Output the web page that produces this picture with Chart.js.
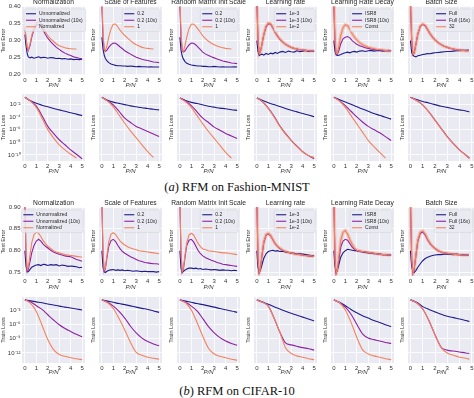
<!DOCTYPE html>
<html>
<head>
<meta charset="utf-8">
<script src="https://cdn.jsdelivr.net/npm/chart.js@4.4.1/dist/chart.umd.min.js"></script>
<style>
  html, body { margin: 0; padding: 0; background: #fff; width: 474px; height: 398px; overflow: hidden; position: relative; }
  canvas { position: absolute; }
  .cap { position: absolute; left: 0; width: 474px; text-align: center; font-family: "Liberation Serif", "Times New Roman", serif; font-size: 12.5px; color: #111; }
</style>
</head>
<body>
<div class="cap" style="top:180px">(<i>a</i>) RFM on Fashion-MNIST</div>
<div class="cap" style="top:384px">(<i>b</i>) RFM on CIFAR-10</div>
<script>
// panel titles and legend labels, one per column
const titles = ["Normalization", "Scale of Features", "Random Matrix Init Scale", "Learning rate", "Learning Rate Decay", "Batch Size"];
const legendNorm = ["Unnormalized", "Unnormalized (10x)", "Normalized"];
const legendScale = ["0.2", "0.2 (10x)", "1"];
const legendInit = ["0.2", "0.2 (10x)", "1"];
const legendLr = ["1e-3", "1e-3 (10x)", "1e-2"];
const legendDecay = ["ISR8", "ISR8 (10x)", "Const"];
const legendBatch = ["Full", "Full (16x)", "32"];

// x values (P/N)
const teX = [0, 0.1, 0.2, 0.3, 0.45, 0.6, 0.8, 1, 1.2, 1.4, 1.6, 1.8, 2, 2.25, 2.5, 2.75, 3, 3.25, 3.5, 3.75, 4, 4.25, 4.5, 4.75, 5];
const tlX = [0, 0.5, 1, 1.5, 2, 2.5, 3, 3.5, 4, 4.5, 5];
const tlXBatch = [0, 0.5, 1, 1.5, 2, 2.5, 3, 3.5, 4, 4.5, 4.8];
const xTicks = [0, 1, 2, 3, 4, 5];

// y tick values
const fmTestTicks = [0.2, 0.25, 0.3, 0.35, 0.4];
const cfTestTicks = [0.75, 0.8, 0.85, 0.9];
const fmLossTicks = [1e-2, 1e-4, 1e-6, 1e-8, 1e-10];
const cfLossTicks = [1e-3, 1e-6, 1e-9, 1e-12];

// Fashion-MNIST test error: [blue, purple, orange]
const fmTestNorm = [
  [0.318, 0.285, 0.262, 0.252, 0.249, 0.251, 0.248, 0.250, 0.252, 0.249, 0.251, 0.250, 0.248, 0.250, 0.249, 0.247, 0.248, 0.246, 0.247, 0.245, 0.246, 0.244, 0.245, 0.244, 0.245],
  [0.335, 0.305, 0.278, 0.270, 0.285, 0.310, 0.333, 0.345, 0.348, 0.342, 0.330, 0.318, 0.307, 0.297, 0.288, 0.280, 0.274, 0.268, 0.263, 0.259, 0.256, 0.252, 0.250, 0.248, 0.246],
  [0.340, 0.310, 0.280, 0.272, 0.290, 0.315, 0.340, 0.352, 0.356, 0.350, 0.337, 0.325, 0.315, 0.305, 0.298, 0.290, 0.285, 0.282, 0.279, 0.277, 0.276, 0.275, 0.275, null, null]
];
const fmTestScale = [
  [0.310, 0.275, 0.258, 0.248, 0.240, 0.235, 0.231, 0.229, 0.227, 0.226, 0.226, 0.225, 0.225, 0.224, 0.225, 0.224, 0.223, 0.224, 0.223, 0.223, 0.222, 0.223, 0.222, 0.222, 0.222],
  [0.400, 0.310, 0.272, 0.268, 0.272, 0.280, 0.288, 0.293, 0.292, 0.287, 0.281, 0.276, 0.270, 0.265, 0.260, 0.255, 0.251, 0.248, 0.245, 0.243, 0.241, 0.239, 0.237, 0.236, 0.235],
  [0.420, 0.330, 0.275, 0.270, 0.285, 0.310, 0.335, 0.348, 0.349, 0.340, 0.330, 0.322, 0.315, 0.307, 0.300, 0.293, 0.288, 0.284, 0.280, 0.278, 0.277, 0.276, 0.275, null, null]
];
const fmTestInit = [
  [0.310, 0.272, 0.255, 0.246, 0.238, 0.233, 0.230, 0.228, 0.227, 0.226, 0.225, 0.225, 0.224, 0.224, 0.223, 0.223, 0.224, 0.223, 0.222, 0.223, 0.222, 0.222, 0.222, 0.223, 0.222],
  [0.400, 0.310, 0.270, 0.266, 0.270, 0.278, 0.287, 0.293, 0.292, 0.287, 0.280, 0.273, 0.266, 0.260, 0.256, 0.252, 0.249, 0.246, 0.243, 0.240, 0.238, 0.236, 0.234, 0.233, 0.232],
  [0.420, 0.330, 0.272, 0.268, 0.285, 0.310, 0.335, 0.348, 0.349, 0.342, 0.333, 0.324, 0.314, 0.305, 0.298, 0.292, 0.288, 0.284, 0.281, 0.279, 0.277, 0.276, 0.275, null, null]
];
const fmTestLr = [
  [0.300, 0.268, 0.256, 0.258, 0.260, 0.257, 0.262, 0.259, 0.263, 0.261, 0.265, 0.262, 0.266, 0.268, 0.265, 0.269, 0.267, 0.266, 0.270, 0.267, 0.269, 0.271, 0.268, 0.270, 0.269],
  [0.410, 0.300, 0.262, 0.266, 0.290, 0.316, 0.340, 0.350, 0.349, 0.337, 0.324, 0.313, 0.304, 0.296, 0.289, 0.284, 0.280, 0.277, 0.275, 0.273, 0.272, 0.271, 0.270, 0.270, 0.269],
  [0.420, 0.300, 0.260, 0.265, 0.290, 0.318, 0.342, 0.352, 0.350, 0.338, 0.325, 0.314, 0.305, 0.296, 0.289, 0.284, 0.280, 0.277, 0.275, 0.273, 0.272, 0.271, 0.270, 0.270, 0.270]
];
const fmTestDecay = [
  [0.300, 0.268, 0.258, 0.256, 0.257, 0.259, 0.262, 0.264, 0.266, 0.264, 0.267, 0.268, 0.266, 0.269, 0.270, 0.268, 0.270, 0.271, 0.269, 0.270, 0.271, 0.269, 0.270, 0.271, 0.270],
  [0.400, 0.290, 0.262, 0.260, 0.272, 0.290, 0.305, 0.310, 0.312, 0.308, 0.300, 0.294, 0.289, 0.285, 0.282, 0.279, 0.277, 0.275, 0.274, 0.273, 0.272, 0.271, 0.270, 0.270, 0.270],
  [0.420, 0.300, 0.262, 0.262, 0.285, 0.315, 0.338, 0.347, 0.344, 0.333, 0.320, 0.310, 0.302, 0.294, 0.288, 0.284, 0.280, 0.278, 0.276, 0.274, 0.273, 0.272, 0.271, 0.270, 0.270]
];
const fmTestBatch = [
  [0.300, 0.265, 0.257, 0.254, 0.252, 0.255, 0.257, 0.259, 0.260, 0.262, 0.261, 0.263, 0.264, 0.265, 0.266, 0.267, 0.268, 0.268, 0.269, 0.270, 0.270, 0.271, 0.271, 0.272, null],
  [0.410, 0.300, 0.261, 0.263, 0.290, 0.319, 0.342, 0.348, 0.344, 0.332, 0.320, 0.310, 0.302, 0.294, 0.288, 0.283, 0.280, 0.277, 0.275, 0.273, 0.272, 0.271, 0.270, 0.270, null],
  [0.420, 0.300, 0.260, 0.262, 0.290, 0.320, 0.343, 0.349, 0.345, 0.333, 0.320, 0.310, 0.302, 0.294, 0.288, 0.283, 0.280, 0.277, 0.275, 0.273, 0.272, 0.271, 0.270, 0.270, null]
];

// Fashion-MNIST train loss
const fmLossNorm = [
  [1.3e-1, 3.5e-2, 1.4e-2, 7.1e-3, 4e-3, 2.2e-3, 1.3e-3, 7.9e-4, 4.5e-4, 2.8e-4, 1.6e-4],
  [1.3e-1, 3.2e-2, 5e-3, 1.6e-4, 3.2e-6, 2.5e-7, 2.5e-8, 4e-9, 6.3e-10, 1.3e-10, 2.5e-11],
  [1.3e-1, 3.2e-2, 3.2e-3, 6.3e-5, 1e-6, 5e-8, 4e-9, 6.3e-10, 1.3e-10, 3.2e-11, null]
];
const fmLossScale = [
  [1.3e-1, 4.5e-2, 2.2e-2, 1.4e-2, 8.9e-3, 5.6e-3, 4e-3, 2.8e-3, 2.2e-3, 1.6e-3, 1.3e-3],
  [1.3e-1, 3.5e-2, 7.9e-3, 7.9e-4, 6.3e-5, 1.3e-5, 3.2e-6, 1.3e-6, 5e-7, 2e-7, 7.9e-8],
  [1.3e-1, 3.2e-2, 4e-3, 2e-4, 1e-5, 6.3e-7, 5e-8, 4e-9, 3.2e-10, 4e-11, null]
];
const fmLossInit = [
  [1e-1, 4e-2, 2e-2, 1.3e-2, 7.9e-3, 5e-3, 3.5e-3, 2.5e-3, 2e-3, 1.4e-3, 1.1e-3],
  [1e-1, 3.2e-2, 6.3e-3, 6.3e-4, 6.3e-5, 1.3e-5, 2.5e-6, 7.9e-7, 2.5e-7, 1e-7, 4e-8],
  [1e-1, 2.5e-2, 3.2e-3, 1.6e-4, 7.9e-6, 5e-7, 4e-8, 3.2e-9, 2.5e-10, 3.2e-11, null]
];
const fmLossLr = [
  [1e-1, 4e-2, 1.8e-2, 8.9e-3, 4.5e-3, 2.2e-3, 1.1e-3, 6.3e-4, 3.5e-4, 2e-4, 1.1e-4],
  [1e-1, 2.5e-2, 2.5e-3, 1.3e-4, 4e-6, 2.5e-7, 2e-8, 2.5e-9, 3.2e-10, 7.9e-11, 2.5e-11],
  [1e-1, 2.5e-2, 2e-3, 1e-4, 3.2e-6, 2e-7, 2e-8, 2e-9, 3.2e-10, 7.9e-11, 4e-11]
];
const fmLossDecay = [
  [1.3e-1, 5e-2, 2.2e-2, 1e-2, 4e-3, 1.8e-3, 7.9e-4, 3.5e-4, 1.8e-4, 8.9e-5, 4.5e-5],
  [1.3e-1, 3.5e-2, 6.3e-3, 7.9e-4, 1e-4, 1.6e-5, 3.2e-6, 1e-6, 3.2e-7, 7.9e-8, 1.8e-8],
  [1.3e-1, 3.2e-2, 3.2e-3, 1.6e-4, 7.9e-6, 4e-7, 2e-8, 2e-9, 2.5e-10, 3.2e-11, null]
];
const fmLossBatch = [
  [1.3e-1, 5.6e-2, 2.8e-2, 1.6e-2, 8.9e-3, 5e-3, 3.2e-3, 2e-3, 1.3e-3, 8.9e-4, 6.3e-4],
  [1.3e-1, 4e-2, 7.9e-3, 6.3e-4, 3.2e-5, 1.6e-6, 7.9e-8, 6.3e-9, 6.3e-10, 1e-10, 3.2e-11],
  [1.3e-1, 4e-2, 7.9e-3, 5.6e-4, 2.8e-5, 1.4e-6, 7.1e-8, 5.6e-9, 5.6e-10, 8.9e-11, 2.5e-11]
];

// CIFAR-10 test error
const cfTestNorm = [
  [0.800, 0.765, 0.752, 0.752, 0.757, 0.762, 0.765, 0.767, 0.768, 0.766, 0.769, 0.768, 0.766, 0.768, 0.767, 0.768, 0.765, 0.767, 0.766, 0.764, 0.765, 0.764, 0.763, 0.761, 0.762],
  [0.910, 0.790, 0.752, 0.758, 0.775, 0.795, 0.812, 0.822, 0.826, 0.822, 0.815, 0.810, 0.806, 0.801, 0.797, 0.794, 0.792, 0.790, 0.788, 0.787, 0.786, 0.783, 0.780, 0.778, 0.776],
  [0.920, 0.800, 0.756, 0.762, 0.790, 0.818, 0.837, 0.842, 0.840, 0.832, 0.823, 0.816, 0.810, 0.805, 0.800, 0.797, 0.795, 0.793, 0.791, 0.790, 0.789, 0.788, 0.787, 0.786, 0.785]
];
const cfTestScale = [
  [0.800, 0.762, 0.752, 0.750, 0.753, 0.755, 0.756, 0.757, 0.755, 0.756, 0.755, 0.756, 0.754, 0.755, 0.754, 0.753, 0.754, 0.753, 0.752, 0.753, 0.752, 0.752, 0.752, 0.751, 0.752],
  [0.910, 0.790, 0.752, 0.758, 0.785, 0.810, 0.823, 0.826, 0.821, 0.812, 0.804, 0.798, 0.794, 0.790, 0.786, 0.783, 0.780, 0.777, 0.775, 0.773, 0.772, 0.771, 0.770, 0.770, 0.769],
  [0.920, 0.800, 0.755, 0.760, 0.790, 0.820, 0.838, 0.841, 0.837, 0.829, 0.822, 0.817, 0.813, 0.809, 0.806, 0.804, 0.802, 0.800, 0.799, 0.798, 0.797, 0.796, 0.795, 0.794, 0.793]
];
const cfTestInit = [
  [0.800, 0.760, 0.750, 0.752, 0.756, 0.758, 0.760, 0.760, 0.759, 0.760, 0.758, 0.759, 0.757, 0.758, 0.757, 0.756, 0.757, 0.756, 0.755, 0.756, 0.755, 0.755, 0.754, 0.755, 0.754],
  [0.910, 0.790, 0.750, 0.756, 0.785, 0.812, 0.824, 0.826, 0.820, 0.810, 0.800, 0.793, 0.788, 0.784, 0.781, 0.778, 0.776, 0.773, 0.771, 0.769, 0.768, 0.767, 0.766, 0.765, 0.764],
  [0.920, 0.800, 0.752, 0.758, 0.790, 0.818, 0.836, 0.840, 0.836, 0.826, 0.816, 0.809, 0.804, 0.802, 0.800, 0.799, 0.798, 0.797, 0.796, 0.795, 0.795, 0.794, 0.793, 0.792, 0.791]
];
const cfTestLr = [
  [0.800, 0.762, 0.750, 0.755, 0.768, 0.782, 0.793, 0.798, 0.800, 0.801, 0.799, 0.800, 0.798, 0.799, 0.797, 0.796, 0.795, 0.794, 0.793, 0.793, 0.792, 0.791, 0.790, 0.789, 0.788],
  [0.910, 0.780, 0.750, 0.758, 0.789, 0.818, 0.835, 0.839, 0.834, 0.825, 0.816, 0.810, 0.805, 0.801, 0.798, 0.796, 0.794, 0.793, 0.792, 0.791, 0.790, 0.789, 0.788, 0.787, 0.787],
  [0.920, 0.780, 0.750, 0.758, 0.790, 0.820, 0.837, 0.840, 0.835, 0.825, 0.816, 0.810, 0.806, 0.801, 0.798, 0.796, 0.795, 0.793, 0.792, 0.791, 0.790, 0.789, 0.788, 0.788, 0.787]
];
const cfTestDecay = [
  [0.800, 0.765, 0.750, 0.755, 0.770, 0.785, 0.795, 0.800, 0.803, 0.802, 0.801, 0.800, 0.800, 0.798, 0.797, 0.796, 0.795, 0.794, 0.793, 0.793, 0.792, 0.791, 0.791, 0.790, 0.790],
  [0.910, 0.775, 0.748, 0.755, 0.782, 0.808, 0.822, 0.826, 0.824, 0.816, 0.808, 0.803, 0.800, 0.799, 0.798, 0.797, 0.796, 0.795, 0.794, 0.793, 0.792, 0.791, 0.791, 0.790, 0.790],
  [0.920, 0.780, 0.748, 0.755, 0.790, 0.823, 0.842, 0.846, 0.838, 0.825, 0.814, 0.806, 0.801, 0.799, 0.798, 0.797, 0.796, 0.795, 0.794, 0.793, 0.792, 0.791, 0.791, 0.790, 0.790]
];
const cfTestBatch = [
  [0.800, 0.765, 0.752, 0.750, 0.755, 0.762, 0.770, 0.777, 0.782, 0.785, 0.787, 0.789, 0.790, 0.791, 0.791, 0.792, 0.792, 0.792, 0.791, 0.792, 0.791, 0.791, 0.790, 0.790, null],
  [0.910, 0.780, 0.748, 0.757, 0.790, 0.822, 0.840, 0.843, 0.836, 0.825, 0.816, 0.810, 0.805, 0.800, 0.797, 0.795, 0.794, 0.793, 0.792, 0.791, 0.791, 0.790, 0.790, 0.790, null],
  [0.920, 0.780, 0.748, 0.757, 0.792, 0.825, 0.842, 0.845, 0.838, 0.826, 0.817, 0.810, 0.805, 0.800, 0.797, 0.795, 0.794, 0.793, 0.792, 0.791, 0.791, 0.790, 0.790, 0.790, null]
];

// CIFAR-10 train loss
const cfLossNorm = [
  [1.3e-1, 7.9e-2, 5e-2, 3.2e-2, 1.8e-2, 1.1e-2, 6.3e-3, 4e-3, 2.5e-3, 1.6e-3, 1e-3],
  [1.3e-1, 5e-2, 7.9e-3, 1.3e-3, 1e-4, 7.9e-6, 7.9e-7, 1.3e-7, 3.2e-8, 7.9e-9, 2.5e-9],
  [1.3e-1, 2.5e-2, 5e-4, 6.3e-7, 6.3e-10, 5e-12, 5e-13, 2e-13, 1e-13, 6.3e-14, 4e-14]
];
const cfLossScale = [
  [1.3e-1, 7.1e-2, 4e-2, 2.2e-2, 1.3e-2, 7.1e-3, 4e-3, 2.2e-3, 1.3e-3, 6.3e-4, 3.2e-4],
  [1.3e-1, 4e-2, 6.3e-3, 5e-4, 2e-5, 4e-7, 1.6e-8, 1.3e-9, 2.5e-10, 7.9e-11, 3.2e-11],
  [1.3e-1, 3.2e-2, 2e-3, 1.6e-5, 6.3e-8, 1.6e-10, 1.3e-12, 3.2e-13, 1.3e-13, 7.9e-14, 5e-14]
];
const cfLossInit = [
  [1.3e-1, 7.1e-2, 4e-2, 2.2e-2, 1.3e-2, 7.1e-3, 4e-3, 2e-3, 1.1e-3, 6.3e-4, 3.2e-4],
  [1.3e-1, 4e-2, 6.3e-3, 6.3e-4, 1.6e-5, 3.2e-7, 1.6e-8, 1.6e-9, 3.2e-10, 1e-10, 4e-11],
  [1.3e-1, 3.2e-2, 1e-3, 2.5e-6, 3.2e-9, 1e-11, 6.3e-13, 2e-13, 1e-13, 5e-14, 3.2e-14]
];
const cfLossLr = [
  [1.3e-1, 4.5e-2, 1.6e-2, 5e-3, 1.6e-3, 5.6e-4, 2e-4, 7.9e-5, 3.2e-5, 1.3e-5, 5e-6],
  [1.3e-1, 4e-2, 6.3e-3, 2e-5, 2.5e-8, 1.3e-10, 5e-11, 2.5e-11, 1.3e-11, 7.9e-12, 4e-12],
  [1.3e-1, 4e-2, 6.3e-3, 2e-5, 2.5e-8, 1.3e-11, 7.9e-13, 2.5e-13, 1.3e-13, 6.3e-14, 4e-14]
];
const cfLossDecay = [
  [1.3e-1, 4e-2, 7.9e-3, 1.3e-3, 2.5e-4, 6.3e-5, 2e-5, 6.3e-6, 2.5e-6, 7.9e-7, 3.2e-7],
  [1.3e-1, 3.2e-2, 4e-3, 1.3e-4, 1e-6, 1e-8, 1.3e-9, 6.3e-10, 3.2e-10, 1.6e-10, 1e-10],
  [1.3e-1, 3.2e-2, 1e-3, 2.5e-6, 2e-9, 5e-12, 6.3e-13, 2.5e-13, 1.3e-13, 6.3e-14, 4e-14]
];
const cfLossBatch = [
  [1.3e-1, 4e-2, 5e-3, 1.3e-3, 4e-4, 1.3e-4, 5e-5, 2.5e-5, 1.3e-5, 6.3e-6, 4e-6],
  [1.3e-1, 3.2e-2, 1.6e-3, 6.3e-6, 6.3e-9, 1.6e-11, 4e-12, 2.5e-12, 1.6e-12, 1e-12, 7.9e-13],
  [1.3e-1, 3.2e-2, 1.6e-3, 6.3e-6, 6.3e-9, 1.3e-11, 1e-12, 3.2e-13, 1.3e-13, 7.9e-14, 5e-14]
];

// styling / layout
const FONT = '"Liberation Sans", Arial, sans-serif';
const COLORS = ["#1f1b8b", "#8e22a3", "#f3825f"];
const BAND = "rgba(243,130,95,0.35)";
const colLeft = [22, 99, 177, 254, 331, 408];
const colWidth = [63, 63, 63, 63, 63, 67];
const legends = [legendNorm, legendScale, legendInit, legendLr, legendDecay, legendBatch];

const SUP = { "-": "\u207b", "0": "\u2070", "1": "\u00b9", "2": "\u00b2", "3": "\u00b3", "4": "\u2074", "5": "\u2075", "6": "\u2076", "7": "\u2077", "8": "\u2078", "9": "\u2079" };
const sciLabel = v => "10" + String(Math.round(Math.log10(v))).split("").map(ch => SUP[ch]).join("");
const decLabel = v => v.toFixed(2);

const rows = [
  { top: 6, bottom: 75, type: "linear", min: 0.1985, max: 0.402, ticks: fmTestTicks, fmt: decLabel, yTitle: "Test Error", test: true, gap: 10,
    panels: [fmTestNorm, fmTestScale, fmTestInit, fmTestLr, fmTestDecay, fmTestBatch] },
  { top: 94, bottom: 161, type: "logarithmic", min: 1.1e-11, max: 0.42, ticks: fmLossTicks, fmt: sciLabel, yTitle: "Train Loss", test: false, gap: 10,
    panels: [fmLossNorm, fmLossScale, fmLossInit, fmLossLr, fmLossDecay, fmLossBatch] },
  { top: 207, bottom: 276, type: "linear", min: 0.742, max: 0.9, ticks: cfTestTicks, fmt: decLabel, yTitle: "Test Error", test: true, gap: 11,
    panels: [cfTestNorm, cfTestScale, cfTestInit, cfTestLr, cfTestDecay, cfTestBatch] },
  { top: 297, bottom: 363, type: "logarithmic", min: 8e-15, max: 0.52, ticks: cfLossTicks, fmt: sciLabel, yTitle: "Train Loss", test: false, gap: 9,
    panels: [cfLossNorm, cfLossScale, cfLossInit, cfLossLr, cfLossDecay, cfLossBatch] }
];

function lineSet(xs, ys, color, width, order, smooth) {
  return {
    data: xs.map((x, i) => ({ x, y: ys[i] })),
    borderColor: color,
    borderWidth: width,
    pointRadius: 0,
    fill: false,
    tension: 0,
    cubicInterpolationMode: smooth ? "monotone" : "default",
    order,
    clip: 0
  };
}

function drawPanel(row, r, c) {
  const L = c === 0 ? 21 : 8;
  const R = c === 5 ? 0 : 8;   // room for wide titles
  const T = 7;
  const B = row.gap + 3;
  const cw = L + colWidth[c] + R;
  const ch = T + (row.bottom - row.top) + B;
  const cv = document.createElement("canvas");
  cv.width = cw;
  cv.height = ch;
  cv.style.left = (colLeft[c] - L) + "px";
  cv.style.top = (row.top - T) + "px";
  document.body.appendChild(cv);

  const series = row.panels[c];
  const xs = row.test ? teX : (c === 5 ? tlXBatch : tlX);
  const datasets = [];
  if (row.test && c >= 3) datasets.push(lineSet(xs, series[2], BAND, 3.5, 10, false));
  series.forEach((ys, k) => datasets.push(lineSet(xs, ys, COLORS[k], 1.1, 3 - k, !row.test)));

  const legendLabels = row.test ? legends[c] : null;
  const legendLeft = r === 0 && c === 0;
  const title = row.test ? titles[c] : "";

  // plot background, panel title and in-axes legend
  const panelDeco = {
    id: "panelDeco",
    beforeDraw(chart) {
      const { ctx, chartArea: a } = chart;
      ctx.save();
      ctx.fillStyle = "#eaeaf2";
      ctx.fillRect(a.left, a.top, a.right - a.left, a.bottom - a.top);
      ctx.restore();
    },
    afterDraw(chart) {
      const { ctx, chartArea: a } = chart;
      ctx.save();
      if (title) {
        ctx.font = "6.7px " + FONT;
        ctx.fillStyle = "#262626";
        ctx.textAlign = "center";
        ctx.textBaseline = "middle";
        ctx.fillText(title, (a.left + a.right) / 2, a.top - 3.5);
      }
      if (legendLabels) {
        ctx.font = "5px " + FONT;
        const tw = Math.max(...legendLabels.map(t => ctx.measureText(t).width));
        const rowH = 6.5;
        const w = 2 + 10 + 3 + tw + 3;
        const h = legendLabels.length * rowH + 3;
        const x0 = legendLeft ? a.left + 2 : a.right - 2 - w;
        const y0 = a.top + 3;
        ctx.fillStyle = "rgba(234,234,242,0.8)";
        ctx.strokeStyle = "rgba(204,204,204,0.8)";
        ctx.lineWidth = 0.5;
        ctx.beginPath();
        if (ctx.roundRect) ctx.roundRect(x0, y0, w, h, 1.5); else ctx.rect(x0, y0, w, h);
        ctx.fill();
        ctx.stroke();
        legendLabels.forEach((t, i) => {
          const y = y0 + 1.5 + rowH * (i + 0.5);
          ctx.strokeStyle = COLORS[i];
          ctx.lineWidth = 1.1;
          ctx.beginPath();
          ctx.moveTo(x0 + 2, y);
          ctx.lineTo(x0 + 12, y);
          ctx.stroke();
          ctx.fillStyle = "#262626";
          ctx.textAlign = "left";
          ctx.textBaseline = "middle";
          ctx.fillText(t, x0 + 15, y);
        });
      }
      ctx.restore();
    }
  };

  new Chart(cv, {
    type: "line",
    data: { datasets },
    plugins: [panelDeco],
    options: {
      responsive: false,
      animation: false,
      events: [],
      layout: { padding: { top: T, left: 0, right: R, bottom: 0 } },
      plugins: { legend: { display: false }, tooltip: { enabled: false } },
      scales: {
        x: {
          type: "linear",
          min: c === 5 ? -0.2 : -0.25,
          max: 5.25,
          afterBuildTicks: s => { s.ticks = xTicks.map(v => ({ value: v })); },
          afterFit: s => { s.height = B; },
          grid: { color: "#ffffff", lineWidth: 0.8, drawTicks: false },
          border: { display: false },
          ticks: { padding: 1.5, autoSkip: false, maxRotation: 0, color: "#333", font: { family: FONT, size: 6 }, callback: v => String(v) },
          title: { display: true, text: "P/N", color: "#333", padding: 0, font: { family: FONT, size: 6, style: "italic", lineHeight: 1 } }
        },
        y: {
          type: row.type,
          min: row.min,
          max: row.max,
          afterBuildTicks: s => { s.ticks = row.ticks.map(v => ({ value: v })); },
          afterFit: s => { s.width = L; },
          grid: { color: "#ffffff", lineWidth: 0.8, drawTicks: false },
          border: { display: false },
          ticks: { display: c === 0, padding: 1.5, color: "#333", font: { family: FONT, size: 6 }, callback: v => row.fmt(v) },
          title: { display: true, text: row.yTitle, color: "#333", padding: 0, font: { family: FONT, size: 5.5, lineHeight: 1 } }
        }
      }
    }
  });
}

rows.forEach((row, r) => {
  for (let c = 0; c < 6; c++) drawPanel(row, r, c);
});
</script>
</body>
</html>
